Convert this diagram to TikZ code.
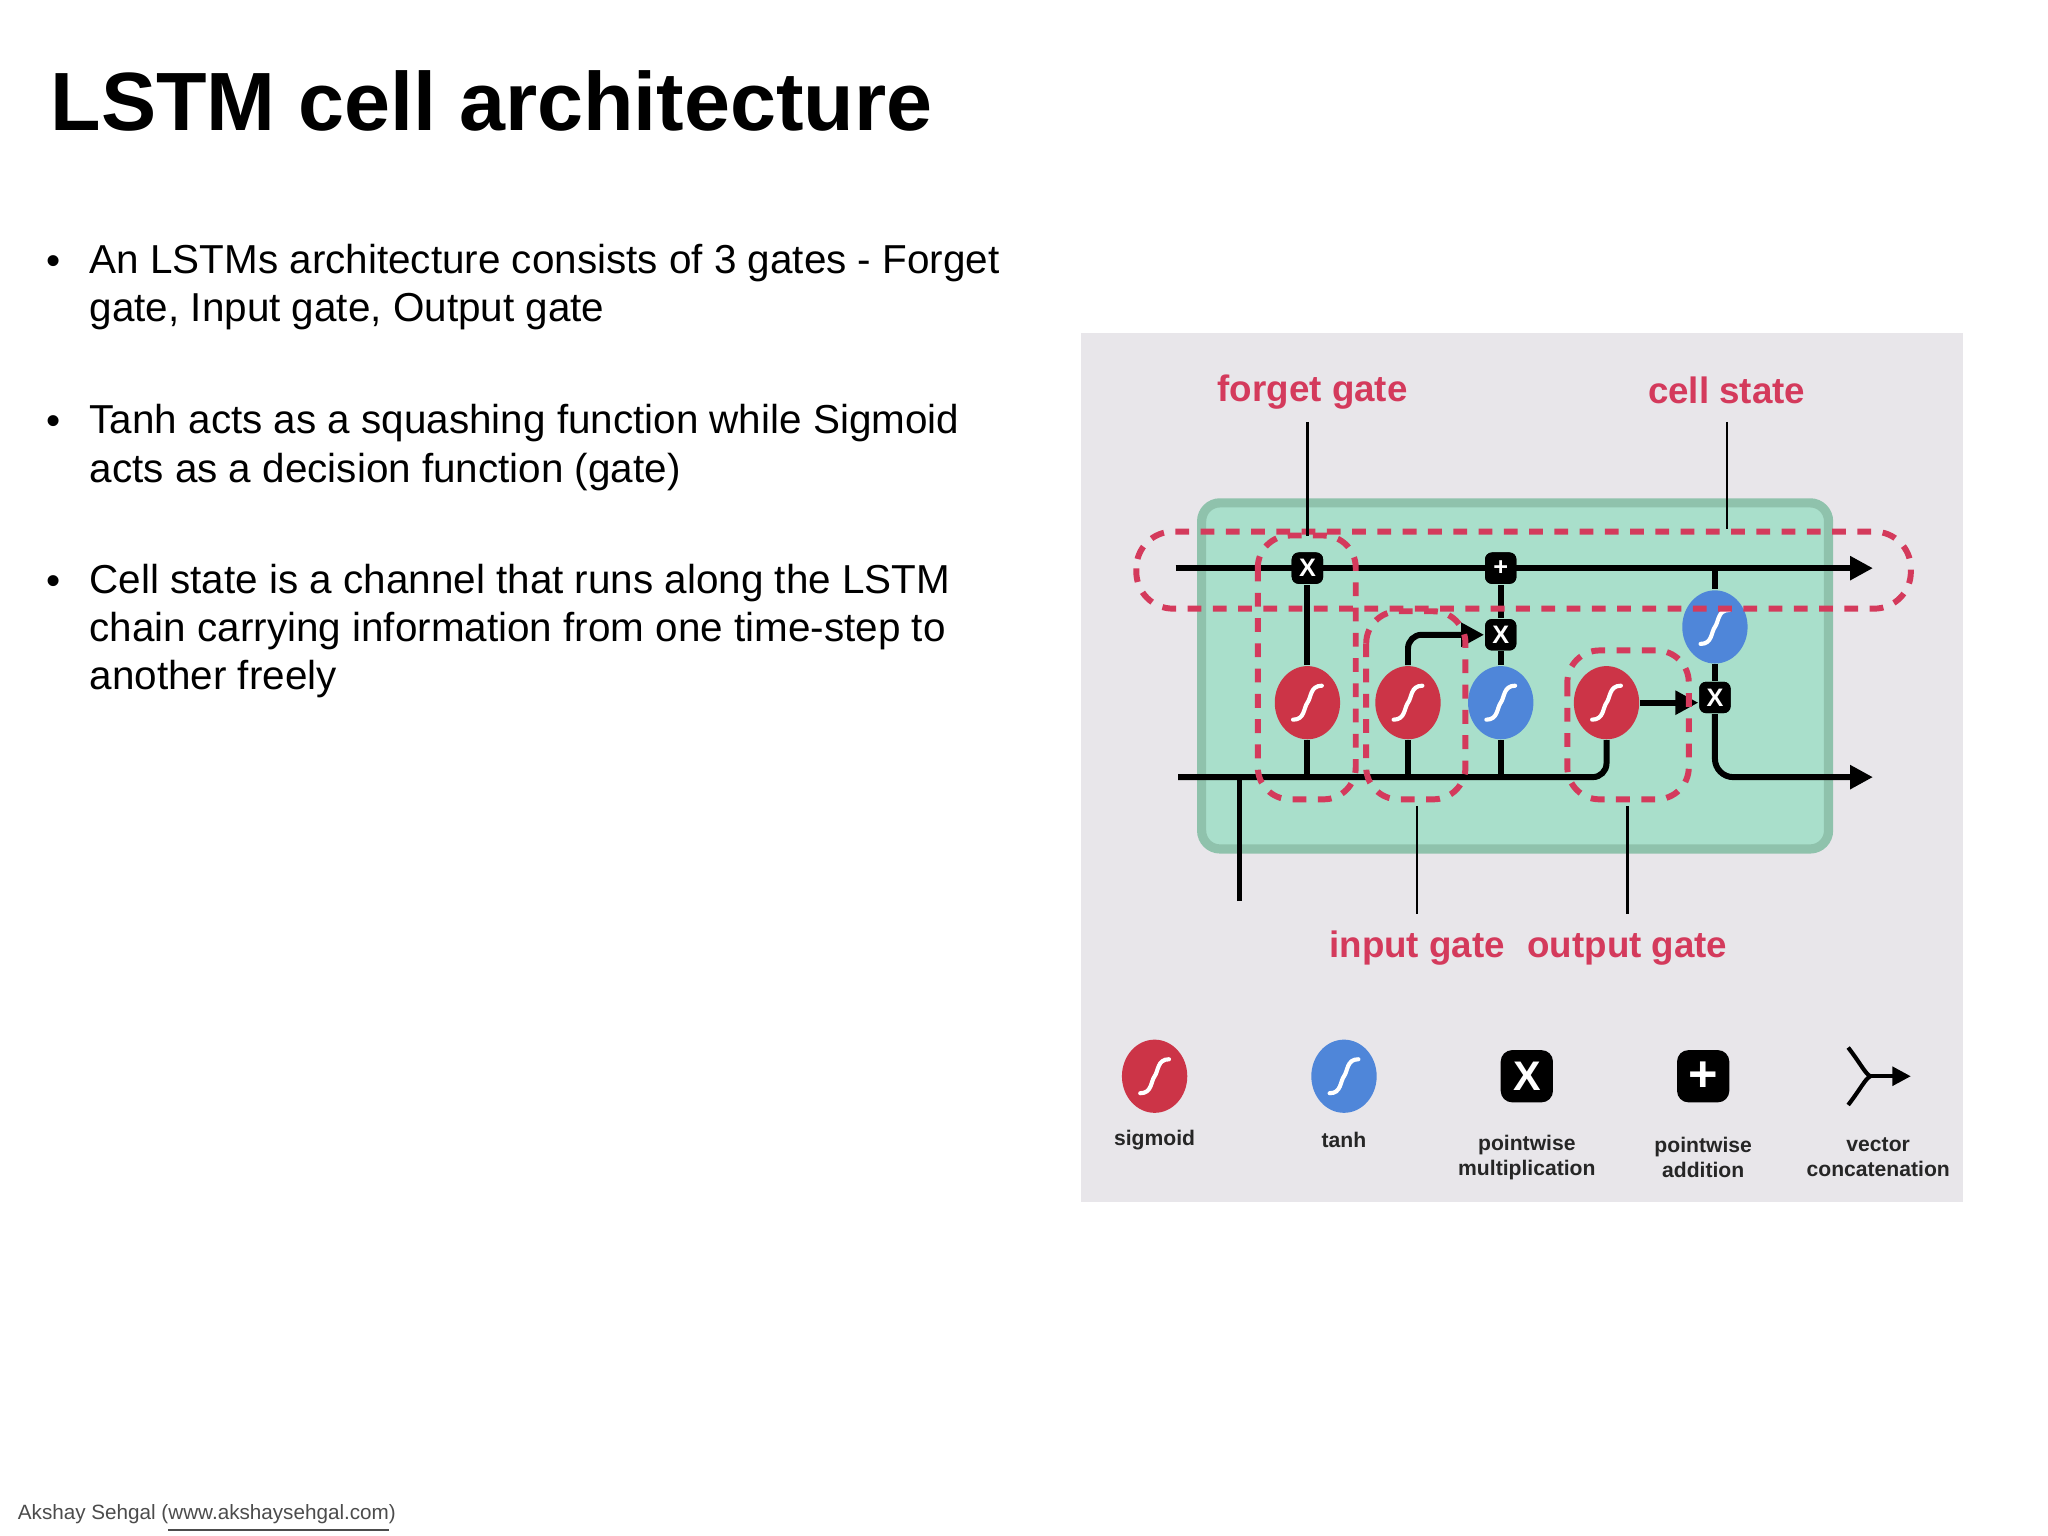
\documentclass[tikz,border=0pt]{standalone}
\usepackage{fontspec}
\setmainfont{Liberation Sans}
\usetikzlibrary{arrows.meta,shapes.geometric}
\begin{document}
\begin{tikzpicture}[x=0.01cm,y=-0.01cm,
  lbl/.style={text=gatered,font=\bfseries\fontsize{8}{9}\selectfont},
  wire/.style={line width=1.3pt,black},
  arr/.style={wire,-{Triangle[length=5pt,width=5pt]}},
  gdash/.style={gatered,line width=1.3pt,dash pattern=on 3pt off 2.5pt},
  pointer/.style={line width=0.5pt,black},
  sig/.style={ellipse,inner sep=0pt,fill=sigred,minimum width=0.5cm,minimum height=0.56cm},
  th/.style={ellipse,inner sep=0pt,fill=tanhblue,minimum width=0.5cm,minimum height=0.56cm},
  op/.style={fill=black,text=white,rounded corners=1.5pt,minimum size=0.24cm,inner sep=0pt,font=\bfseries\fontsize{5.5}{6}\selectfont},
  leg/.style={font=\bfseries\fontsize{4.6}{5.5}\selectfont,align=center,text=black!85}]
\definecolor{gatered}{HTML}{D43A5C}
\definecolor{sigred}{HTML}{CC3447}
\definecolor{tanhblue}{HTML}{4F86D9}
\definecolor{panel}{HTML}{E8E6EA}
\definecolor{cellgreen}{HTML}{A9DFCB}
\definecolor{cellborder}{HTML}{8FC2AC}
\newcommand{\sglyph}[1]{\draw[white,line width=0.9pt,line cap=round] ([xshift=-0.11cm,yshift=-0.13cm]#1.center) .. controls ([xshift=-0.02cm,yshift=-0.13cm]#1.center) and ([xshift=-0.03cm,yshift=-0.04cm]#1.center) .. (#1.center) .. controls ([xshift=0.03cm,yshift=0.04cm]#1.center) and ([xshift=0.02cm,yshift=0.13cm]#1.center) .. ([xshift=0.11cm,yshift=0.13cm]#1.center);}
\useasboundingbox (0,0) rectangle (1568,1176);
\fill[white] (0,0) rectangle (1568,1176);
% title and text
\node[anchor=base west,inner sep=0pt,font=\bfseries\fontsize{18}{20}\selectfont] (title) at (38,100) {LSTM cell architecture};
\begin{scope}[font=\fontsize{8.8}{10.5}\selectfont]
\node[anchor=base west,inner sep=0pt] (b1) at (35,210) {•};
\node[anchor=north west,align=left,inner sep=0pt] (t1) at (68,186) {An LSTMs architecture consists of 3 gates - Forget\\gate, Input gate, Output gate};
\node[anchor=base west,inner sep=0pt] (b2) at (35,333) {•};
\node[anchor=north west,align=left,inner sep=0pt] (t2) at (68,309) {Tanh acts as a squashing function while Sigmoid\\acts as a decision function (gate)};
\node[anchor=base west,inner sep=0pt] (b3) at (35,455) {•};
\node[anchor=north west,align=left,inner sep=0pt] (t3) at (68,431) {Cell state is a channel that runs along the LSTM\\chain carrying information from one time-step to\\another freely};
\end{scope}
\node[anchor=base west,inner sep=0pt,font=\fontsize{4.5}{5}\selectfont,text=black!70] (foot) at (13,1163) {Akshay Sehgal (\underline{www.akshaysehgal.com})};
% panel
\fill[panel] (828,255) rectangle (1503,920);
\draw[cellborder,line width=2pt,fill=cellgreen,rounded corners=4pt] (920,385) rectangle (1400,650);
% nodes
\node[op] (fx) at (1001,435) {X};
\node[op] (pl) at (1149,435) {+};
\node[op] (ix) at (1149,486) {X};
\node[op] (ox) at (1313,534) {X};
\node[sig] (fs) at (1001,538) {};
\node[sig] (is) at (1078,538) {};
\node[th] (it) at (1149,538) {};
\node[sig] (os) at (1230,538) {};
\node[th] (ct) at (1313,480) {};
\coordinate (cin) at (900,435); \coordinate (cout) at (1434,435);
\coordinate (hin) at (902,595); \coordinate (hout) at (1434,595);
\coordinate (xin) at (949,690);
% wires
\draw[arr] (cin) -- (cout);
\draw[wire,rounded corners=3pt] (hin) -- (1230,595) -- (os.south);
\draw[wire] (xin) -- (949,595);
\draw[wire] (fs.south) -- (1001,595); \draw[wire] (fs.north) -- (fx.south);
\draw[wire] (is.south) -- (1078,595);
\draw[arr,rounded corners=3pt] (is.north) -- (1078,486) -- (ix.west);
\draw[wire] (it.south) -- (1149,595); \draw[wire] (it.north) -- (ix.south);
\draw[wire] (ix.north) -- (pl.south);
\draw[arr] (os.east) -- (os.east -| ox.west);
\draw[wire] (1313,435) -- (ct.north); \draw[wire] (ct.south) -- (ox.north);
\draw[arr,rounded corners=4pt] (ox.south) -- (1313,595) -- (hout);
% redraw nodes on top
\node[op] at (fx) {X}; \node[op] at (pl) {+}; \node[op] at (ix) {X}; \node[op] at (ox) {X};
\foreach \n in {fs,is,it,os,ct} {\sglyph{\n}}
% dashed groups
\draw[gdash,rounded corners=8pt] (870,407) rectangle (1463,466);
\draw[gdash,rounded corners=7pt] (963,410) rectangle (1038,612);
\draw[gdash,rounded corners=7pt] (1046,468) rectangle (1122,612);
\draw[gdash,rounded corners=7pt] (1200,498) rectangle (1293,612);
% labels
\node[lbl] (lf) at (1005,300) {forget gate};
\node[lbl] (lc) at (1322,299) {cell state};
\node[lbl] (li) at (1085,726) {input gate};
\node[lbl] (lo) at (1246,727) {output gate};
\draw[pointer] (1001,323) -- (1001,410);
\draw[pointer] (1322,323) -- (1322,405);
\draw[pointer] (1085,617) -- (1085,700);
\draw[pointer] (1246,617) -- (1246,700);
% legend
\node[sig] (gs) at (884,824) {}; \sglyph{gs}
\node[th] (gt) at (1029,824) {}; \sglyph{gt}
\node[op,minimum size=0.4cm,rounded corners=2.5pt,font=\bfseries\fontsize{9}{9}\selectfont] (gx) at (1169,824) {X};
\node[op,minimum size=0.4cm,rounded corners=2.5pt,font=\bfseries\fontsize{11}{11}\selectfont] (gp) at (1304,824) {+};
\coordinate (cv) at (1432,824);
\draw[line width=0.9pt] (1415,802) .. controls (1425,815) and (1428,822) .. (1432,824) .. controls (1428,826) and (1425,833) .. (1415,846);
\draw[line width=0.9pt,-{Triangle[length=4pt,width=4pt]}] (cv) -- (1463,824);
\node[leg] (ls) at (884,873) {sigmoid};
\node[leg] (lt) at (1029,873) {tanh};
\node[leg] (lm) at (1169,886) {pointwise\\multiplication};
\node[leg] (la) at (1304,886) {pointwise\\addition};
\node[leg] (lv) at (1438,886) {vector\\concatenation};
\end{tikzpicture}
\end{document}
